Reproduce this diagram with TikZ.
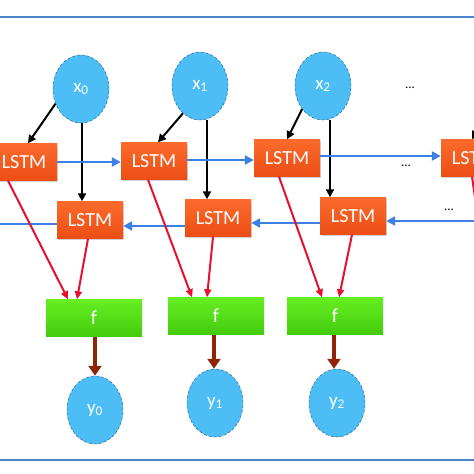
\documentclass[tikz,border=0pt]{standalone}
\usepackage{fontspec}
\setmainfont{Carlito}
\usetikzlibrary{shapes.geometric,arrows.meta,shadows}
\definecolor{ellblue}{HTML}{4DBDF5}
\definecolor{ellborder}{HTML}{2A6E9E}
\definecolor{lstmtop}{HTML}{FB6A2C}
\definecolor{lstmbot}{HTML}{EC4E14}
\definecolor{ftop}{HTML}{66EE22}
\definecolor{fbot}{HTML}{44CC0E}
\definecolor{arrblue}{HTML}{3C7FE6}
\definecolor{arrred}{HTML}{E5112E}
\definecolor{arrbrown}{HTML}{8E2506}
\definecolor{frameblue}{HTML}{4A86C8}
\tikzset{
  ellnode/.style={ellipse, draw=ellborder, densely dashed, line width=0.5pt, fill=ellblue,
    minimum width=56pt, minimum height=68pt, inner sep=0pt, text=white, font=\fontsize{19}{21}\selectfont},
  lstmbox/.style={rectangle, top color=lstmtop, bottom color=lstmbot, draw=none,
    minimum width=66pt, minimum height=37pt, inner sep=0pt, text=white,
    font=\fontsize{20}{22}\selectfont,
    drop shadow={shadow xshift=1.2pt, shadow yshift=-1.5pt, opacity=0.35}},
  fbox/.style={rectangle, top color=ftop, bottom color=fbot, draw=none,
    minimum width=96pt, minimum height=37pt, inner sep=0pt, text=white,
    font=\fontsize{20}{22}\selectfont},
  blk/.style={draw=black, line width=2pt, -{Triangle[length=8pt,width=8pt]}},
  blu/.style={draw=arrblue, line width=2.6pt, -{Triangle[length=9pt,width=9pt]}},
  bluplain/.style={draw=arrblue, line width=2.6pt},
  rd/.style={draw=arrred, line width=2pt, -{Triangle[length=8pt,width=7pt]}},
  brn/.style={draw=arrbrown, line width=4.5pt, -{Triangle[length=10pt,width=13pt]}},
  dots/.style={text=black, font=\fontsize{13}{14}\selectfont, inner sep=0pt}
}
\begin{document}
\begin{tikzpicture}[x=1pt,y=-1pt]
\useasboundingbox (0,0) rectangle (474,474);
\fill[white] (0,0) rectangle (474,474);
\clip (0,0) rectangle (474,474);
% frame lines
\draw[frameblue, line width=1.2pt] (0,17) -- (474,17);
\draw[frameblue, line width=1.2pt] (0,460) -- (474,460);

% input ellipses
\node[ellnode] (x0) at (81,89) {x\textsubscript{0}};
\node[ellnode] (x1) at (200,86) {x\textsubscript{1}};
\node[ellnode] (x2) at (323,86) {x\textsubscript{2}};

% forward LSTMs
\node[lstmbox] (T0) at (24,162) {LSTM};
\node[lstmbox] (T1) at (154,161) {LSTM};
\node[lstmbox] (T2) at (287,158) {LSTM};
\node[lstmbox] (T3) at (474,158) {LSTM};

% backward LSTMs
\node[lstmbox] (B0) at (90,220) {LSTM};
\node[lstmbox] (B1) at (218,218) {LSTM};
\node[lstmbox] (B2) at (353,216) {LSTM};

% f boxes
\node[fbox] (F0) at (94,318) {f};
\node[fbox] (F1) at (216,316) {f};
\node[fbox] (F2) at (335,316) {f};

% outputs
\node[ellnode] (y0) at (95,410) {y\textsubscript{0}};
\node[ellnode] (y1) at (215,403) {y\textsubscript{1}};
\node[ellnode] (y2) at (337,403) {y\textsubscript{2}};

% dots
\node[dots] (d1) at (410,88) {...};
\node[dots] (d2) at (406,166) {...};
\node[dots] (d3) at (449,210) {...};

% off-page coordinates
\coordinate (x3in) at (490,106);
\coordinate (T3out) at (490,300);
\coordinate (Rin) at (474,221);
\coordinate (Lout) at (0,224);

% black arrows
\draw[blk] (x0.210) -- ([xshift=4pt]T0.north);
\draw[blk] (x1.238) -- ([xshift=4pt]T1.north);
\draw[blk] (x2.228) -- (T2.north);
\draw[blk] (x3in) -- ([xshift=-2pt]T3.north);
\draw[blk] ([xshift=1pt]x0.south) -- ([xshift=1pt]x0.south |- B0.north);
\draw[blk] ([xshift=7pt]x1.south) -- ([xshift=7pt]x1.south |- B1.north);
\draw[blk] ([xshift=7pt]x2.south) -- ([xshift=7pt]x2.south |- B2.north);

% forward blue arrows
\draw[blu] (T0.east) -- (T0.east -| T1.west);
\draw[blu] ([yshift=1pt]T1.east) -- ([yshift=1pt]T1.east -| T2.west);
\draw[blu] ([yshift=2pt]T2.east) -- ([yshift=2pt]T2.east -| T3.west);

% backward blue arrows
\draw[blu] (Rin) -- (Rin -| B2.east);
\draw[blu] ([yshift=-7pt]B2.west) -- ([yshift=-7pt]B2.west -| B1.east);
\draw[blu] ([yshift=-8pt]B1.west) -- ([yshift=-8pt]B1.west -| B0.east);
\draw[bluplain] ([yshift=-4pt]B0.west) -- ([yshift=-4pt]B0.west -| Lout);

% red arrows
\draw[rd] ([xshift=-16pt]T0.south) -- ([xshift=-26pt]F0.north);
\draw[rd] ([xshift=-2pt]B0.south) -- ([xshift=-17pt]F0.north);
\draw[rd] ([xshift=-6pt]T1.south) -- ([xshift=-24pt]F1.north);
\draw[rd] ([xshift=-5pt]B1.south) -- ([xshift=-9pt]F1.north);
\draw[rd] ([xshift=-8pt]T2.south) -- ([xshift=-13pt]F2.north);
\draw[rd] ([xshift=-1pt]B2.south) -- ([xshift=4pt]F2.north);
\draw[rd] ([xshift=-2pt]T3.south) -- (T3out);

% brown arrows
\draw[brn] ([xshift=1pt]F0.south) -- ([xshift=1pt]F0.south |- y0.north);
\draw[brn] ([xshift=-2pt]F1.south) -- ([xshift=-2pt]F1.south |- y1.north);
\draw[brn] ([xshift=-1pt]F2.south) -- ([xshift=-1pt]F2.south |- y2.north);
\end{tikzpicture}
\end{document}
